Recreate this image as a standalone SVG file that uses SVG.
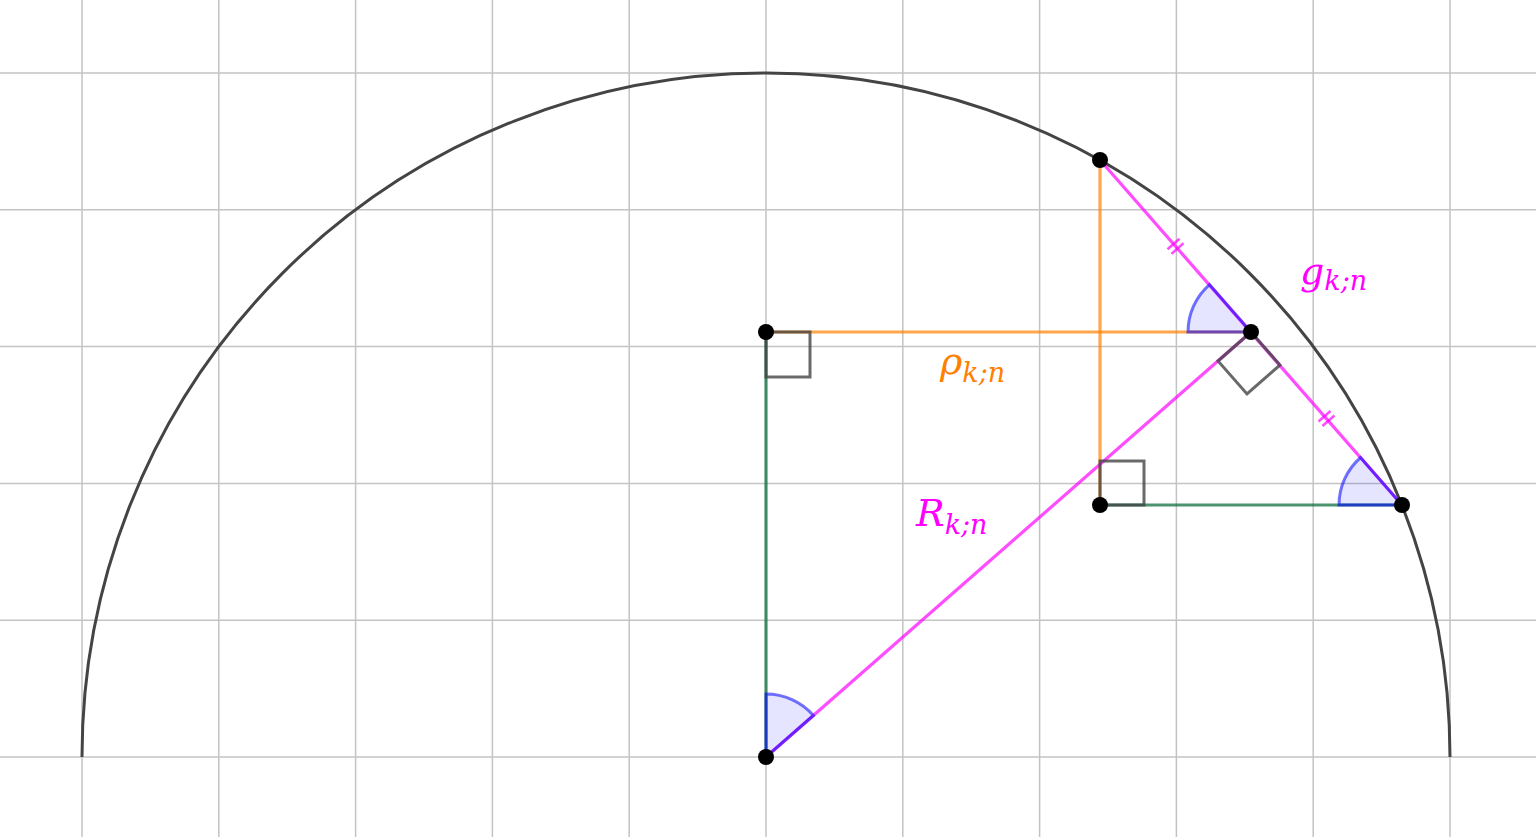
<svg xmlns="http://www.w3.org/2000/svg" width="1536" height="837" viewBox="0 0 1536 837">
<style>
.grid{stroke:#c4c4c4;stroke-width:1.5;fill:none}
.circ{stroke:#444;stroke-width:3;fill:none}
.mag{stroke:#ff00ff;stroke-opacity:0.7;stroke-width:3.2;fill:none}
.ora{stroke:#ff8000;stroke-opacity:0.7;stroke-width:3.2;fill:none}
.grn{stroke:#006633;stroke-opacity:0.7;stroke-width:3.2;fill:none}
.ra{stroke:#444;stroke-opacity:0.8;stroke-width:3;fill:none}
.ang{fill:#0000ff;fill-opacity:0.1;stroke:#0000ff;stroke-opacity:0.55;stroke-width:3}
.tick{stroke:#ff00ff;stroke-opacity:0.7;stroke-width:2.5}
.pt{fill:#000}
</style>
<rect width="1536" height="837" fill="#fff"/>
<g id="grid">
<path class="grid" d="M82 0V837M218.8 0V837M355.6 0V837M492.4 0V837M629.2 0V837M766 0V837M902.8 0V837M1039.6 0V837M1176.4 0V837M1313.2 0V837M1450 0V837"/>
<path class="grid" d="M0 73H1536M0 209.8H1536M0 346.6H1536M0 483.4H1536M0 620.2H1536M0 757H1536"/>
</g>
<g id="semicircle"><path class="circ" d="M82 757A684 684 0 0 1 1450 757"/></g>
<g id="connectors">
<path class="ora" d="M766 332H1251"/>
<path class="ora" d="M1100 160V505"/>
<path class="grn" d="M766 757V332"/>
<path class="grn" d="M1100 505H1402"/>
<path class="mag" d="M1100 160L1402 505"/>
<path class="mag" d="M766 757L1251 332"/>
</g>
<g id="angles">
<path class="ang" d="M766 757L766 694A63 63 0 0 1 813.4 715.5Z"/>
<path class="ang" d="M1251 332L1188 332A63 63 0 0 1 1209.5 284.6Z"/>
<path class="ang" d="M1402 505L1339 505A63 63 0 0 1 1360.6 457.5Z"/>
</g>
<g id="right-angles">
<path class="ra" d="M766 332H810V377H766Z"/>
<path class="ra" d="M1100 505V461H1144V505Z"/>
<path class="ra" d="M1251 332L1218 361L1247 394L1280 365Z"/>
</g>
<g id="ticks">
<g transform="translate(1175.5 246.3) rotate(48.85)"><path class="tick" d="M-3 -8V8M3 -8V8"/></g>
<g transform="translate(1326.5 418.5) rotate(48.85)"><path class="tick" d="M-3 -8V8M3 -8V8"/></g>
</g>
<g id="points">
<circle id="O" class="pt" cx="766" cy="757" r="8"/>
<circle id="A" class="pt" cx="766" cy="332" r="8"/>
<circle id="P1" class="pt" cx="1100" cy="160" r="8"/>
<circle id="M" class="pt" cx="1251" cy="332" r="8"/>
<circle id="P2" class="pt" cx="1402" cy="505" r="8"/>
<circle id="Q" class="pt" cx="1100" cy="505" r="8"/>
</g>
<g id="labels" font-family="'DejaVu Serif', serif" font-style="italic" font-size="38">
<text x="940" y="374" fill="#ff8000">ρ<tspan font-size="27" dy="8">k;n</tspan></text>
<text x="916" y="526" fill="#ff00ff">R<tspan font-size="27" dy="8">k;n</tspan></text>
<text x="1300" y="284" fill="#ff00ff">g<tspan font-size="27" dy="6">k;n</tspan></text>
</g>
</svg>
